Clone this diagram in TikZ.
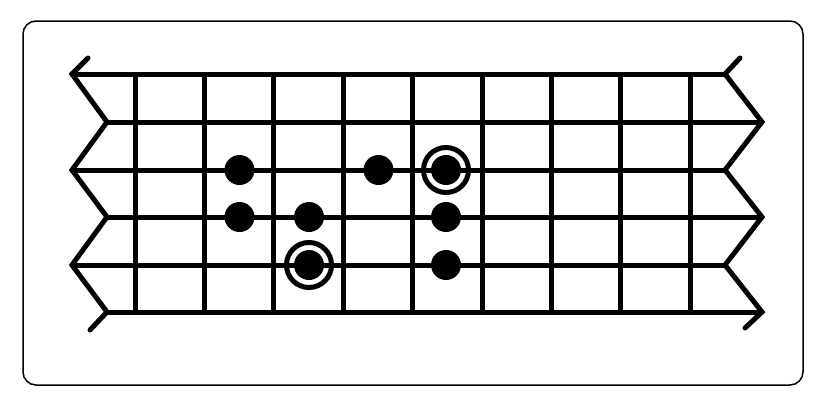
\documentclass[tikz,border=0pt]{standalone}
\usepackage{tikz}
\usetikzlibrary{calc}

\begin{document}
\begin{tikzpicture}[
		x=1pt, y=-1pt,
		wire/.style={line width=5pt},
		edge/.style={line width=5pt, line join=miter, line cap=round},
		dot/.style={circle,fill=black,inner sep=0pt,minimum size=30},
		ring/.style={circle,draw,line width=5pt,inner sep=0pt,minimum size=45}]
		\useasboundingbox (0,0) rectangle (830,407);
		\draw[line width=1.5pt, rounded corners=13] (23,21) rectangle (803,385);
		% strings
		\draw[wire] (72,74)   -- (725,74);
		\draw[wire] (107,122) -- (762,122);
		\draw[wire] (72,170)  -- (725,170);
		\draw[wire] (107,217) -- (762,217);
		\draw[wire] (72,265)  -- (725,265);
		\draw[wire] (107,312) -- (762,312);
		% frets
		\foreach \i in {0,...,8}
			\draw[wire] ($(135,74)+(69.4*\i,0)$) -- ($(135,312)+(69.4*\i,0)$);
		% broken ends
		\draw[edge] (88,58) -- (72,74) -- (107,122) -- (72,170) -- (107,217)
			-- (72,265) -- (107,312) -- (90,330);
		\draw[edge] (740,58) -- (725,74) -- (762,122) -- (725,170) -- (762,217)
			-- (725,265) -- (762,312) -- (745,328);
		% notes
		\node[dot] (a) at (239.5,170) {};
		\node[dot] (b) at (378.5,170) {};
		\node[dot] (c) at (446,170)   {};
		\node[dot] (d) at (239.5,217) {};
		\node[dot] (e) at (309,217)   {};
		\node[dot] (f) at (446,217)   {};
		\node[dot] (g) at (309,265)   {};
		\node[dot] (h) at (446,265)   {};
		% roots
		\node[ring] (cc) at (c) {};
		\node[ring] (gg) at (g) {};
\end{tikzpicture}
\end{document}
